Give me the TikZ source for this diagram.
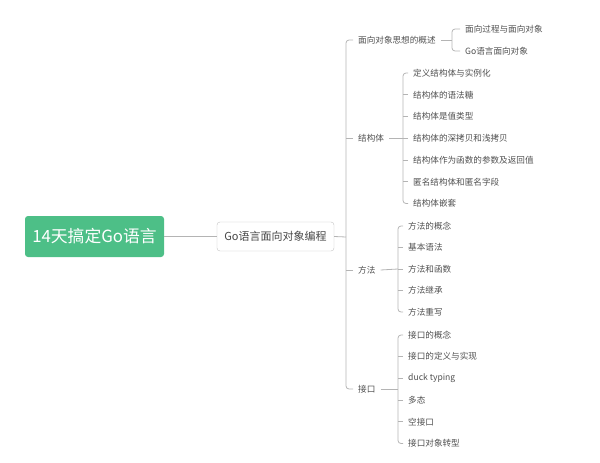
\documentclass[tikz,border=0pt]{standalone}
\usepackage{fontspec}
\setmainfont{Noto Sans CJK SC}
\definecolor{rootgreen}{HTML}{4DBF87}
\definecolor{linegray}{HTML}{B4B4B4}
\definecolor{txtgray}{HTML}{505050}
\tikzset{
  rootbox/.style={fill=rootgreen, rounded corners=3pt, minimum width=139pt, minimum height=41pt, text=white, font=\fontsize{16.8}{20}\selectfont},
  topicbox/.style={draw=linegray!80, fill=white, rounded corners=3pt, minimum width=117pt, minimum height=29pt, text=txtgray!90!black, font=\fontsize{11}{13}\selectfont},
  leaf/.style={anchor=west, inner xsep=5pt, inner ysep=2pt, text=txtgray, font=\fontsize{8.6}{10}\selectfont},
  link/.style={draw=linegray, line width=0.8pt},
  bracket/.style={link, rounded corners=3pt},
}
\begin{document}
\begin{tikzpicture}[x=1pt,y=-1pt]
\useasboundingbox (0,0) rectangle (600,463);
\node[rootbox] (root) at (94.5,236.5) {14天搞定Go语言};
\node[topicbox] (go) at (275.5,236.5) {Go语言面向对象编程};
\draw[link] (root) -- (go);
% main branches
\node[leaf] (gaishu) at (353,40) {面向对象思想的概述};
\node[leaf] (jiegou) at (353,138) {结构体};
\node[leaf] (fangfa) at (353,270) {方法};
\node[leaf] (jiekou) at (353,389) {接口};
\coordinate (spine) at (346,237);
\draw[link] (go.east) -- (spine);
\draw[bracket] (gaishu.west) -| (spine) |- (jiekou.west);
\draw[link] (jiegou.west) -- (jiegou.west -| spine);
\draw[link] (fangfa.west) -- (fangfa.west -| spine);
% 面向对象思想的概述
\node[leaf] (g1) at (460,29) {面向过程与面向对象};
\node[leaf] (g2) at (460,51) {Go语言面向对象};
\coordinate (gspine) at (452,40);
\draw[link] (gaishu.east) -- (gspine);
\draw[bracket] (g1.west) -| (gspine) |- (g2.west);
% 结构体
\foreach \t [count=\i, evaluate=\i as \y using 73+(\i-1)*21.75] in
  {定义结构体与实例化, 结构体的语法糖, 结构体是值类型, 结构体的深拷贝和浅拷贝,
   结构体作为函数的参数及返回值, 匿名结构体和匿名字段, 结构体嵌套}
  \node[leaf] (s\i) at (408,\y) {\t};
\coordinate (sspine) at (403,138);
\draw[link] (jiegou.east) -- (sspine);
\draw[bracket] (s1.west) -| (sspine) |- (s7.west);
\foreach \i in {2,...,6}
  \draw[link] (s\i.west) -- (s\i.west -| sspine);
% 方法
\foreach \t [count=\i, evaluate=\i as \y using 226+(\i-1)*21.5] in
  {方法的概念, 基本语法, 方法和函数, 方法继承, 方法重写}
  \node[leaf] (f\i) at (403,\y) {\t};
\coordinate (fspine) at (398,269);
\draw[link] (fangfa.east) -- (fspine);
\draw[bracket] (f1.west) -| (fspine) |- (f5.west);
\foreach \i in {2,...,4}
  \draw[link] (f\i.west) -- (f\i.west -| fspine);
% 接口
\foreach \t [count=\i, evaluate=\i as \y using 335+(\i-1)*21.7] in
  {接口的概念, 接口的定义与实现, duck typing, 多态, 空接口, 接口对象转型}
  \node[leaf] (j\i) at (403,\y) {\t};
\coordinate (jspine) at (398,389);
\draw[link] (jiekou.east) -- (jspine);
\draw[bracket] (j1.west) -| (jspine) |- (j6.west);
\foreach \i in {2,...,5}
  \draw[link] (j\i.west) -- (j\i.west -| jspine);
\end{tikzpicture}
\end{document}
